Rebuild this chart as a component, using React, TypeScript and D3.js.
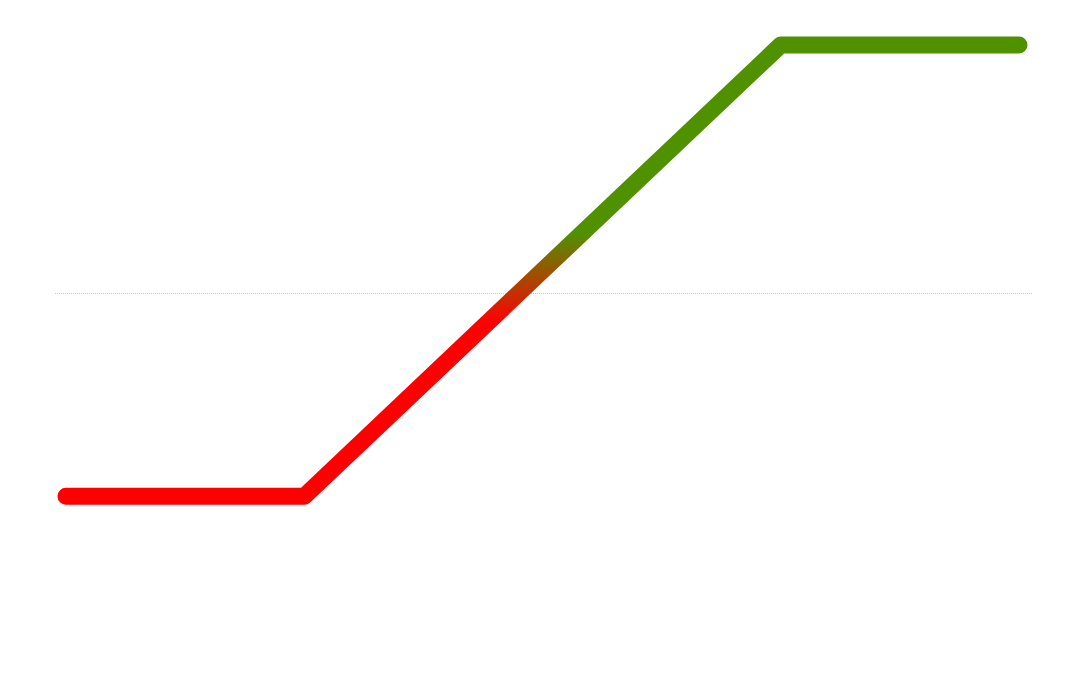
import { useEffect, useRef } from "react";
import * as d3 from "d3";

// data
const steps: number[] = [0, 1, 2, 3, 4];
const values: number[] = [-4.1, -4.1, 0.45, 5, 5];

const App = () => {
    const ref = useRef<SVGSVGElement | null>(null);

    useEffect(() => {
        if (!ref.current) return;
        const width = 1080;
        const height = 676;

        const svg = d3.select(ref.current)
            .attr("width", width)
            .attr("height", height);
        svg.selectAll("*").remove();

        const x = d3.scaleLinear()
            .domain([0, 4])
            .range([66, 1019]);

        const y = d3.scaleLinear()
            .domain([0, 5])
            .range([293, 45]);

        // zero line
        svg.append("line")
            .attr("x1", 55)
            .attr("x2", 1032)
            .attr("y1", y(0) + 0.5)
            .attr("y2", y(0) + 0.5)
            .attr("stroke", "#c8c8c8")
            .attr("stroke-width", 1)
            .attr("stroke-dasharray", "1,1");

        // gradient red (below) -> green (above)
        const grad = svg.append("defs")
            .append("linearGradient")
            .attr("id", "line-grad")
            .attr("gradientUnits", "userSpaceOnUse")
            .attr("x1", 0).attr("x2", 0)
            .attr("y1", y(-0.6))
            .attr("y2", y(1.2));
        grad.append("stop").attr("offset", "0%").attr("stop-color", "#ff0000");
        grad.append("stop").attr("offset", "100%").attr("stop-color", "#509100");

        const line = d3.line<number>()
            .x((_, i) => x(steps[i]))
            .y(d => y(d));

        svg.append("path")
            .datum(values)
            .attr("fill", "none")
            .attr("stroke", "url(#line-grad)")
            .attr("stroke-width", 17)
            .attr("stroke-linecap", "round")
            .attr("stroke-linejoin", "round")
            .attr("d", line);
    }, []);

    return (
        <svg ref={ref} style={{ position: "absolute", left: 0, top: 0 }}></svg>
    );
};

export default App;
